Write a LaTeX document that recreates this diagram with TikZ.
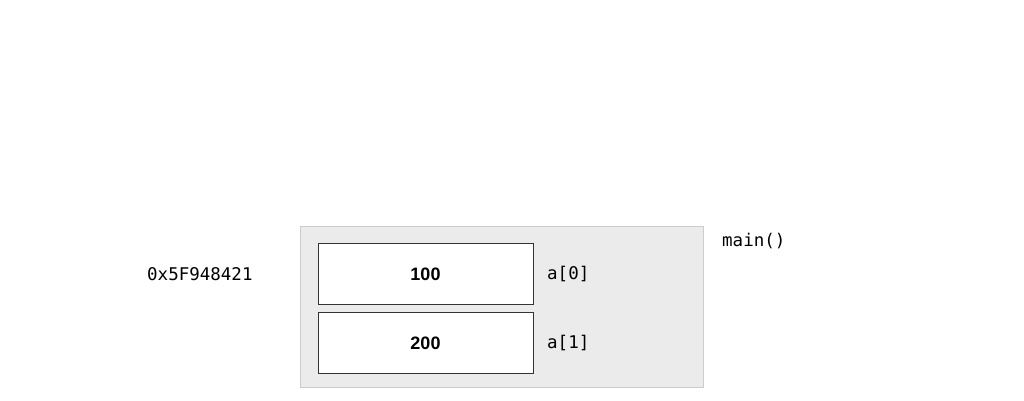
\documentclass[tikz,border=0pt]{standalone}
\usepackage{fontspec}
\setmainfont{Liberation Sans}
\setmonofont{DejaVu Sans Mono}
\definecolor{framefill}{HTML}{EBEBEB}
\definecolor{framedraw}{HTML}{CCCCCC}
\begin{document}
\begin{tikzpicture}[x=1pt,y=-1pt,
  frame/.style={draw=framedraw,fill=framefill,line width=0.8pt},
  cell/.style={draw=black!80,fill=white,line width=0.8pt},
  val/.style={font=\bfseries\fontsize{18}{20}\selectfont},
  lbl/.style={font=\ttfamily\fontsize{17.5}{20}\selectfont},
  every node/.style={inner sep=0pt}]
\useasboundingbox (0,0) rectangle (1024,400);
\fill[white] (0,0) rectangle (1024,400);
\draw[frame] (300,226) rectangle (703,387);
\draw[cell] (318,243) rectangle (533,304);
\draw[cell] (318,312) rectangle (533,373);
\node[val] (v0) at (425.5,274) {100};
\node[val] (v1) at (425.5,343) {200};
\node[lbl,anchor=west] (l0) at (547,274) {a[0]};
\node[lbl,anchor=west] (l1) at (547,343) {a[1]};
\node[lbl,anchor=west] (m) at (722,241) {main()};
\node[lbl,anchor=west] (addr) at (147,274) {0x5F948421};
\end{tikzpicture}
\end{document}
